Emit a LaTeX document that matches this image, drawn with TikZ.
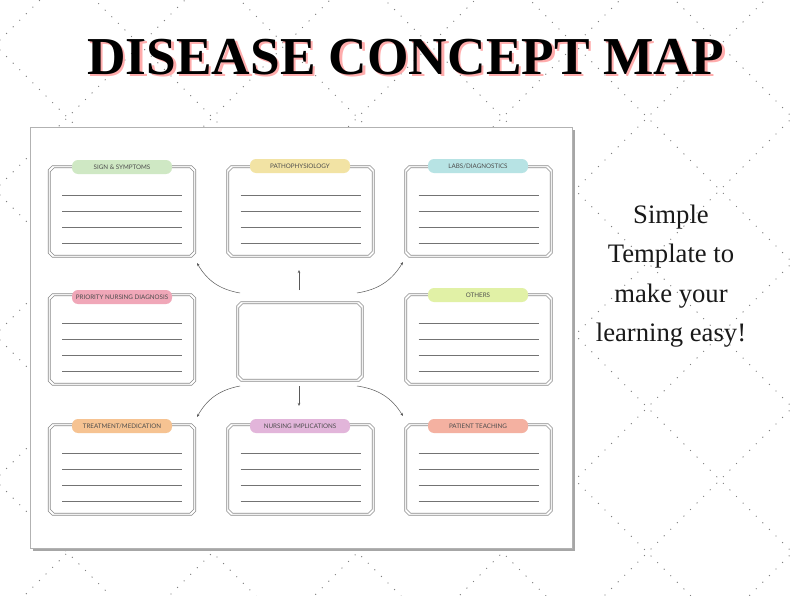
\documentclass[tikz,border=0pt]{standalone}
\usepackage{fontspec}
\setmainfont{Liberation Serif}
\setsansfont{Lato}
\usetikzlibrary{arrows.meta,calc}
\newdimen\px \px=0.75pt
\definecolor{cgreen}{HTML}{CFE8C4}
\definecolor{cyellow}{HTML}{F2E3A4}
\definecolor{ccyan}{HTML}{B7E3E4}
\definecolor{cpink}{HTML}{F0A7B8}
\definecolor{clime}{HTML}{E1F1A6}
\definecolor{corange}{HTML}{F6C392}
\definecolor{clav}{HTML}{E2B5DA}
\definecolor{csalmon}{HTML}{F4B1A1}
\definecolor{edge}{HTML}{8A8A8A}
\tikzset{
  cardbox/.style={rectangle, minimum width=147\px, minimum height=91\px, inner sep=0pt},
  cardline/.style={draw=edge, line width=0.6\px},
  tab/.style={rounded corners=6\px, fill=#1, minimum width=100\px, minimum height=14\px,
    inner sep=0pt, font=\sffamily\fontsize{4.7}{6}\selectfont, text=black!70},
  rule/.style={draw=black!55, line width=0.5\px},
  conn/.style={draw=black!65, line width=0.5\px, -{Stealth[length=2.3pt,width=1.9pt]}},
  bgdot/.style={draw=black!50, line width=1.4\px, line cap=round, dash pattern=on 0pt off 9.3\px},
}
\newcommand{\chamf}[2]{%
  \draw[cardline] ($(#1.north west)+(#2+4,#2)$) -- ($(#1.north east)+(-#2-4,#2)$)
    -- ($(#1.north east)+(-#2,#2+4)$) -- ($(#1.south east)+(-#2,-#2-4)$)
    -- ($(#1.south east)+(-#2-4,-#2)$) -- ($(#1.south west)+(#2+4,-#2)$)
    -- ($(#1.south west)+(#2,-#2-4)$) -- ($(#1.north west)+(#2,#2+4)$) -- cycle;}
\newcommand{\dcard}[1]{\chamf{#1}{0}\chamf{#1}{2}}
\begin{document}
\begin{tikzpicture}[x=1\px,y=-1\px]
\useasboundingbox (0,0) rectangle (794,596);
\fill[white] (0,0) rectangle (794,596);
\begin{scope}
\clip (0,0) rectangle (794,596);
\foreach \c in {-820,-675,...,600}{
  \draw[bgdot] (0,\c) -- (800,\c+800);
}
\foreach \c in {40,185,...,1500}{
  \draw[bgdot] (0,\c) -- (800,\c-800);
}
\end{scope}
% title with pink shadow
\node (shadow) [text=pink!90!red, font=\bfseries\fontsize{40}{44}\selectfont] at (408.5,59.5) {DISEASE CONCEPT MAP};
\node (title) [text=black, font=\bfseries\fontsize{40}{44}\selectfont] at (406,57) {DISEASE CONCEPT MAP};
% sheet
\fill[black!35] (33,130) rectangle (575,551);
\node (sheet) [draw=black!30, fill=white, line width=0.5\px, minimum width=542\px, minimum height=421\px, inner sep=0pt] at (301,337.5) {};
% cards
\foreach \n/\x/\y in {a/122/211.5, b/300.5/211.5, c/478.5/211.5, d/122/339.5, f/478.5/339.5, g/122/469.5, h/300.5/469.5, i/478.5/469.5}{
  \node (\n) [cardbox] at (\x,\y) {};
  \dcard{\n}
  \foreach \k in {-16,0,16,32}{
    \draw[rule] ($(\n.center)+(-60,\k)$) -- ($(\n.center)+(60,\k)$);
  }
}
\node (e) [cardbox, minimum width=126\px, minimum height=79\px] at (300,341.5) {};
\dcard{e}
% tabs
\node (ta) [tab=cgreen] at (122,167) {SIGN \& SYMPTOMS};
\node (tb) [tab=cyellow] at (300,166) {PATHOPHYSIOLOGY};
\node (tc) [tab=ccyan] at (478,166) {LABS/DIAGNOSTICS};
\node (td) [tab=cpink] at (122,297) {PRIORITY NURSING DIAGNOSIS};
\node (tf) [tab=clime] at (478,295) {OTHERS};
\node (tg) [tab=corange] at (122,426) {TREATMENT/MEDICATION};
\node (th) [tab=clav] at (300,426) {NURSING IMPLICATIONS};
\node (ti) [tab=csalmon] at (478,426) {PATIENT TEACHING};
% connectors
\coordinate (s1) at (240,293); \coordinate (s2) at (299,290); \coordinate (s3) at (357,293);
\coordinate (s4) at (240,386); \coordinate (s5) at (299,386); \coordinate (s6) at (357,386);
\coordinate (t1) at (197,263); \coordinate (t2) at (299,270); \coordinate (t3) at (403,262);
\coordinate (t4) at (197,417); \coordinate (t5) at (299,406); \coordinate (t6) at (403,416);
\draw[conn] (s1) to[bend left=25] (t1);
\draw[conn] (s2) -- (t2);
\draw[conn] (s3) to[bend right=25] (t3);
\draw[conn] (s4) to[bend right=25] (t4);
\draw[conn] (s5) -- (t5);
\draw[conn] (s6) to[bend left=25] (t6);
% side text
\node (side) [align=center, font=\fontsize{20}{29.5}\selectfont, text=black!90] at (671,276)
  {Simple\\Template to\\make your\\learning easy!};
\end{tikzpicture}
\end{document}
